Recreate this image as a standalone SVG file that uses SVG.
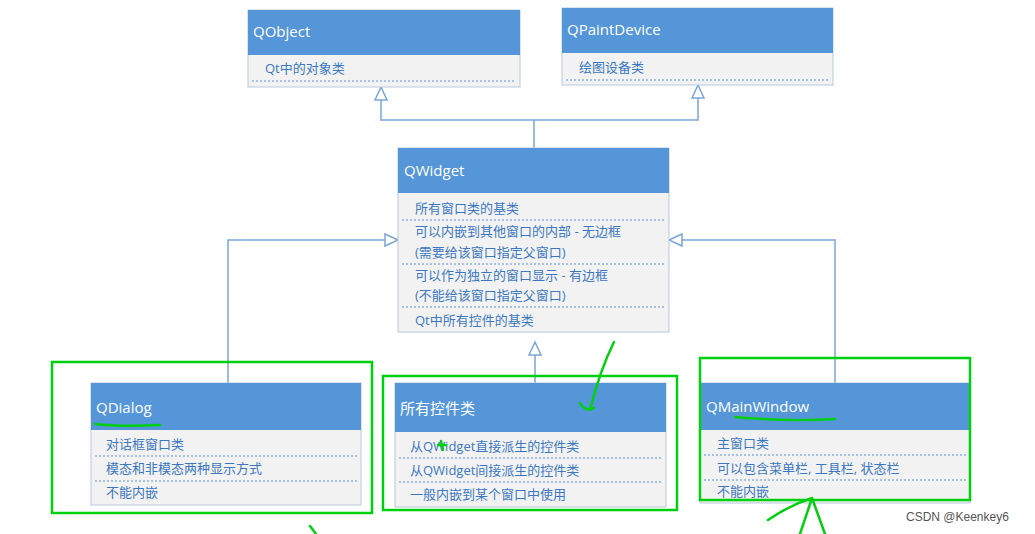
<svg xmlns="http://www.w3.org/2000/svg" width="1035" height="534" viewBox="0 0 1035 534">
<style>
.box{fill:#f2f2f2;stroke:#b8c8dc;stroke-width:1}
.hd{fill:#5596d8}
.ht{font-family:"Open Sans","Noto Sans CJK SC",sans-serif;font-size:15px;fill:#fff}
.t{font-family:"Open Sans","Noto Sans CJK SC",sans-serif;font-size:13px;fill:#3c78c0}
.dv{stroke:#5b8fcf;stroke-width:1.2;stroke-dasharray:2 2}
.ln{fill:none;stroke:#7aa6d6;stroke-width:1.5}
.tri{fill:#fff;stroke:#7aa6d6;stroke-width:1.5}
.g{fill:none;stroke:#00d010;stroke-width:2.5;stroke-linecap:round}
</style>
<rect width="1035" height="534" fill="#fff"/>
<g id="connectors">
<path class="ln" d="M534 148V120H381V100M534 120H698V98"/>
<polygon class="tri" points="381,87 375,100 387,100"/>
<polygon class="tri" points="698,85 692,98 704,98"/>
<path class="ln" d="M228 383V240H385"/>
<polygon class="tri" points="398,240 385,234 385,246"/>
<path class="ln" d="M835 384V240H682"/>
<polygon class="tri" points="669,240 682,234 682,246"/>
<path class="ln" d="M535 383V355"/>
<polygon class="tri" points="535,342 529,355 541,355"/>
</g>
<g id="QObject">
<rect class="box" x="248" y="10" width="272" height="77"/><rect class="hd" x="248" y="10" width="272" height="45"/>
<text class="ht" x="253" y="37">QObject</text><text class="t" x="265" y="73">Qt中的对象类</text>
<line class="dv" x1="252" y1="81" x2="516" y2="81"/>
</g>
<g id="QPaintDevice">
<rect class="box" x="562" y="8" width="271" height="77"/><rect class="hd" x="562" y="8" width="271" height="45"/>
<text class="ht" x="567" y="35">QPaintDevice</text><text class="t" x="579" y="72">绘图设备类</text>
<line class="dv" x1="566" y1="80" x2="829" y2="80"/>
</g>
<g id="QWidget">
<rect class="box" x="398" y="148" width="271" height="184"/><rect class="hd" x="398" y="148" width="271" height="45"/>
<text class="ht" x="404" y="176">QWidget</text>
<text class="t" x="415" y="213">所有窗口类的基类</text>
<line class="dv" x1="402" y1="220" x2="665" y2="220"/>
<text class="t" x="415" y="236">可以内嵌到其他窗口的内部 - 无边框</text>
<text class="t" x="415" y="257">(需要给该窗口指定父窗口)</text>
<line class="dv" x1="402" y1="264" x2="665" y2="264"/>
<text class="t" x="415" y="280">可以作为独立的窗口显示 - 有边框</text>
<text class="t" x="415" y="300">(不能给该窗口指定父窗口)</text>
<line class="dv" x1="402" y1="307" x2="665" y2="307"/>
<text class="t" x="415" y="325">Qt中所有控件的基类</text>
</g>
<g id="QDialog">
<rect class="box" x="91" y="383" width="270" height="122"/><rect class="hd" x="91" y="383" width="270" height="47"/>
<text class="ht" x="96" y="413">QDialog</text>
<text class="t" x="106" y="449">对话框窗口类</text>
<line class="dv" x1="95" y1="456" x2="357" y2="456"/>
<text class="t" x="106" y="473">模态和非模态两种显示方式</text>
<line class="dv" x1="95" y1="481" x2="357" y2="481"/>
<text class="t" x="106" y="497">不能内嵌</text>
</g>
<g id="AllControls">
<rect class="box" x="395" y="383" width="271" height="124"/><rect class="hd" x="395" y="383" width="271" height="49"/>
<text class="ht" x="400" y="414">所有控件类</text>
<text class="t" x="410" y="451">从QWidget直接派生的控件类</text>
<line class="dv" x1="399" y1="458" x2="662" y2="458"/>
<text class="t" x="410" y="475">从QWidget间接派生的控件类</text>
<line class="dv" x1="399" y1="482" x2="662" y2="482"/>
<text class="t" x="410" y="499">一般内嵌到某个窗口中使用</text>
</g>
<g id="QMainWindow">
<rect class="box" x="700" y="383" width="270" height="120"/><rect class="hd" x="700" y="383" width="270" height="47"/>
<text class="ht" x="706" y="412">QMainWindow</text>
<text class="t" x="717" y="448">主窗口类</text>
<line class="dv" x1="704" y1="455" x2="966" y2="455"/>
<text class="t" x="717" y="473">可以包含菜单栏, 工具栏, 状态栏</text>
<line class="dv" x1="704" y1="480" x2="966" y2="480"/>
<text class="t" x="717" y="496">不能内嵌</text>
</g>
<g id="annotations">
<rect class="g" x="52" y="362" width="320" height="151" stroke-linecap="butt"/>
<rect class="g" x="383" y="376" width="294" height="134" stroke-linecap="butt"/>
<rect class="g" x="700" y="358" width="270" height="142" stroke-linecap="butt"/>
<path class="g" d="M95 424Q120 427 160 425"/>
<path class="g" d="M735 417Q790 422 835 419"/>
<path class="g" d="M614 342Q600 370 590 410M580 403Q585 412 594 408"/>
<path class="g" d="M441 441L443 450M438 445L446 445"/>
<path class="g" d="M768 520Q790 505 812 498M812 498L800 534M812 498L825 534"/>
<path class="g" d="M310 526L316 534"/>
</g>
<text x="906" y="521" font-family="Liberation Sans,sans-serif" font-size="12" fill="#555">CSDN @Keenkey6</text>
</svg>
